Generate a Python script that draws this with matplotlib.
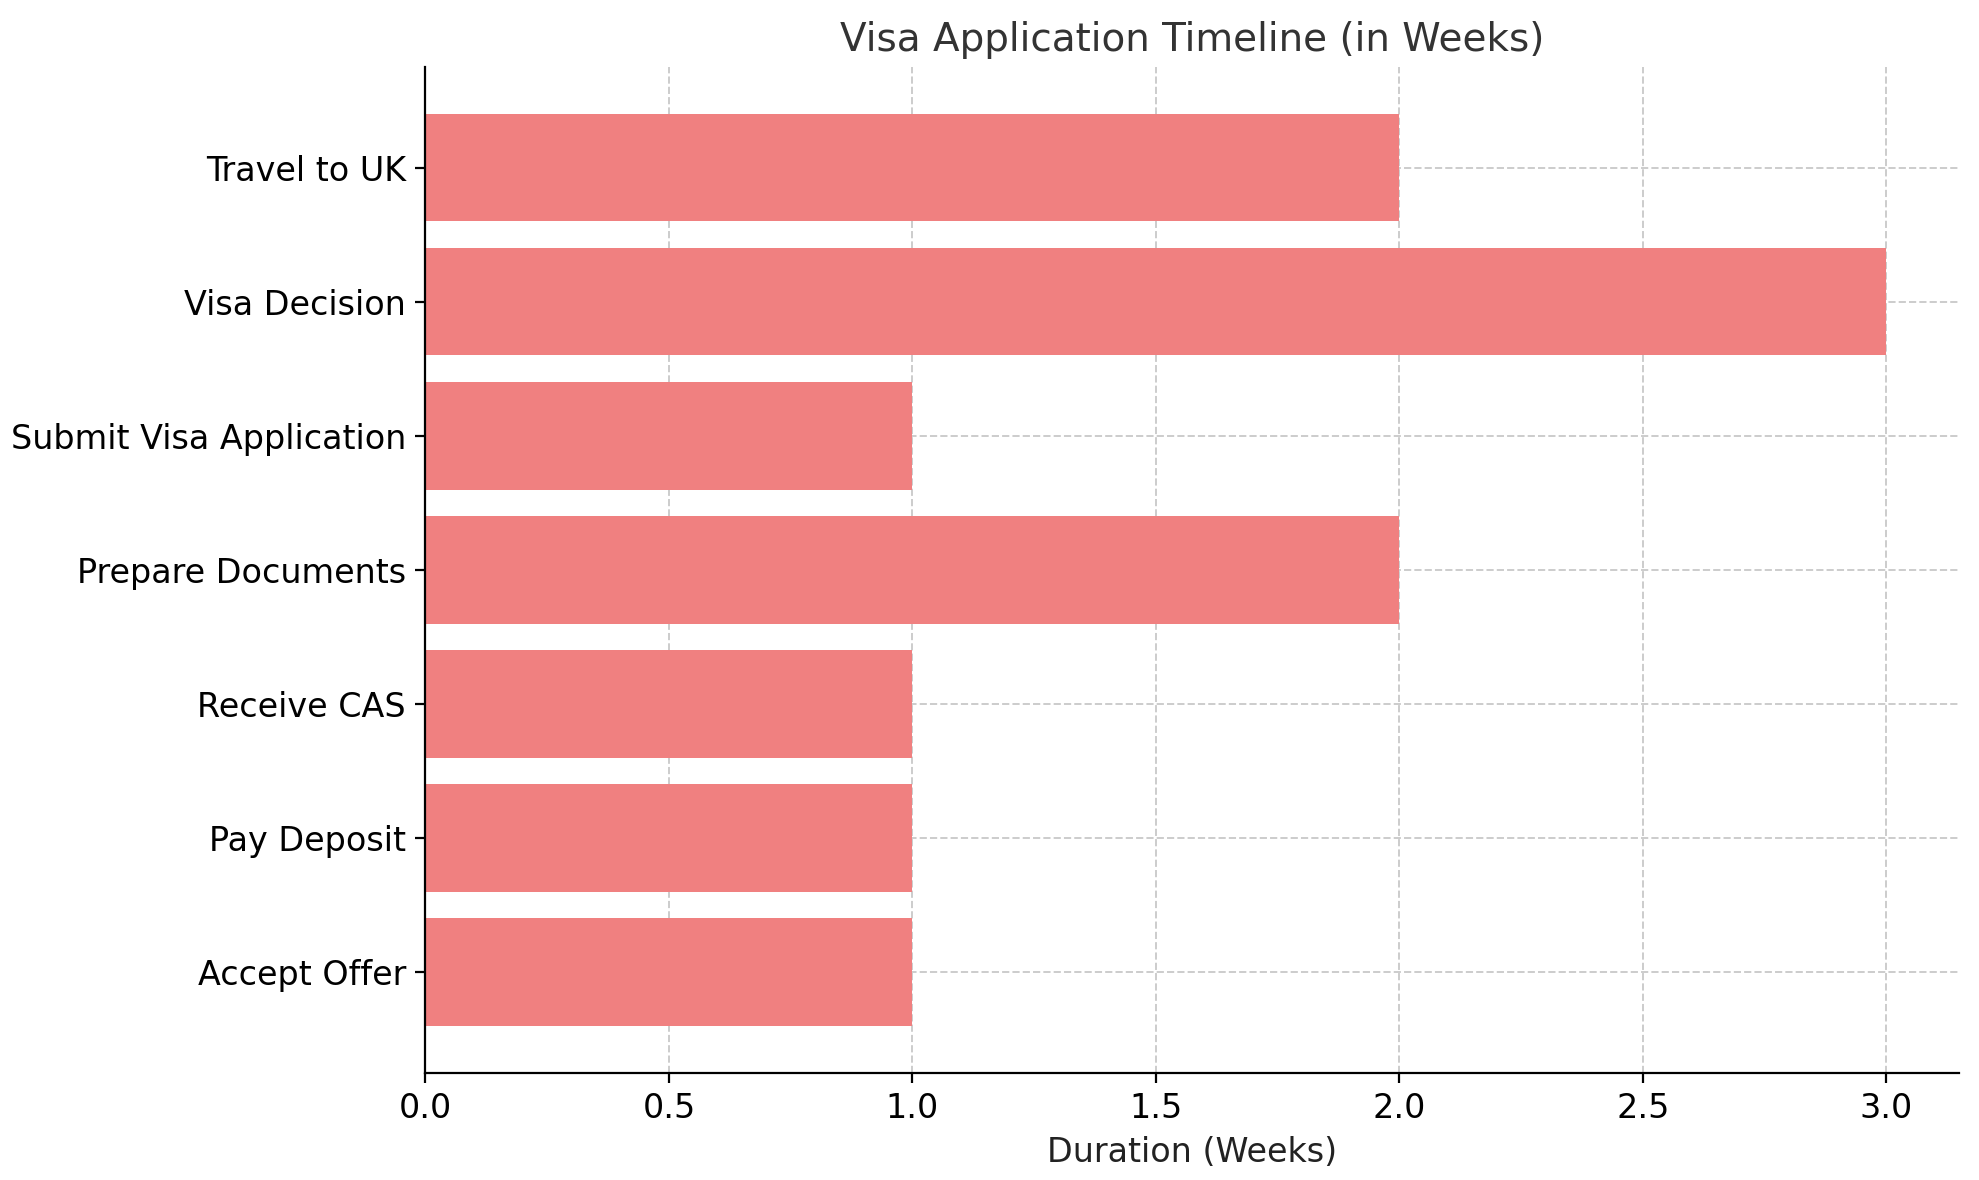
import matplotlib
matplotlib.use("Agg")
import matplotlib.pyplot as plt

steps = ["Accept Offer", "Pay Deposit", "Receive CAS", "Prepare Documents",
         "Submit Visa Application", "Visa Decision", "Travel to UK"]
durations = [1, 1, 1, 2, 1, 3, 2]

fig = plt.figure(figsize=(9.895, 5.9), dpi=200)
ax = fig.add_axes([0.215, 0.091, 0.775, 0.852])
ax.barh(steps, durations, color="#F08080", height=0.8)
ax.set_xlim(0, 3.15)
ax.set_ylim(-0.75, 6.75)
ax.grid(True, linestyle="--", color="#cccccc", linewidth=0.7)
ax.set_axisbelow(True)
for s in ["top", "right"]:
    ax.spines[s].set_visible(False)
ax.set_title("Visa Application Timeline (in Weeks)", fontsize=14, color="#333333")
ax.set_xlabel("Duration (Weeks)", fontsize=12, color="#222222")
ax.tick_params(labelsize=12)
fig.savefig("out.png", dpi=200)
